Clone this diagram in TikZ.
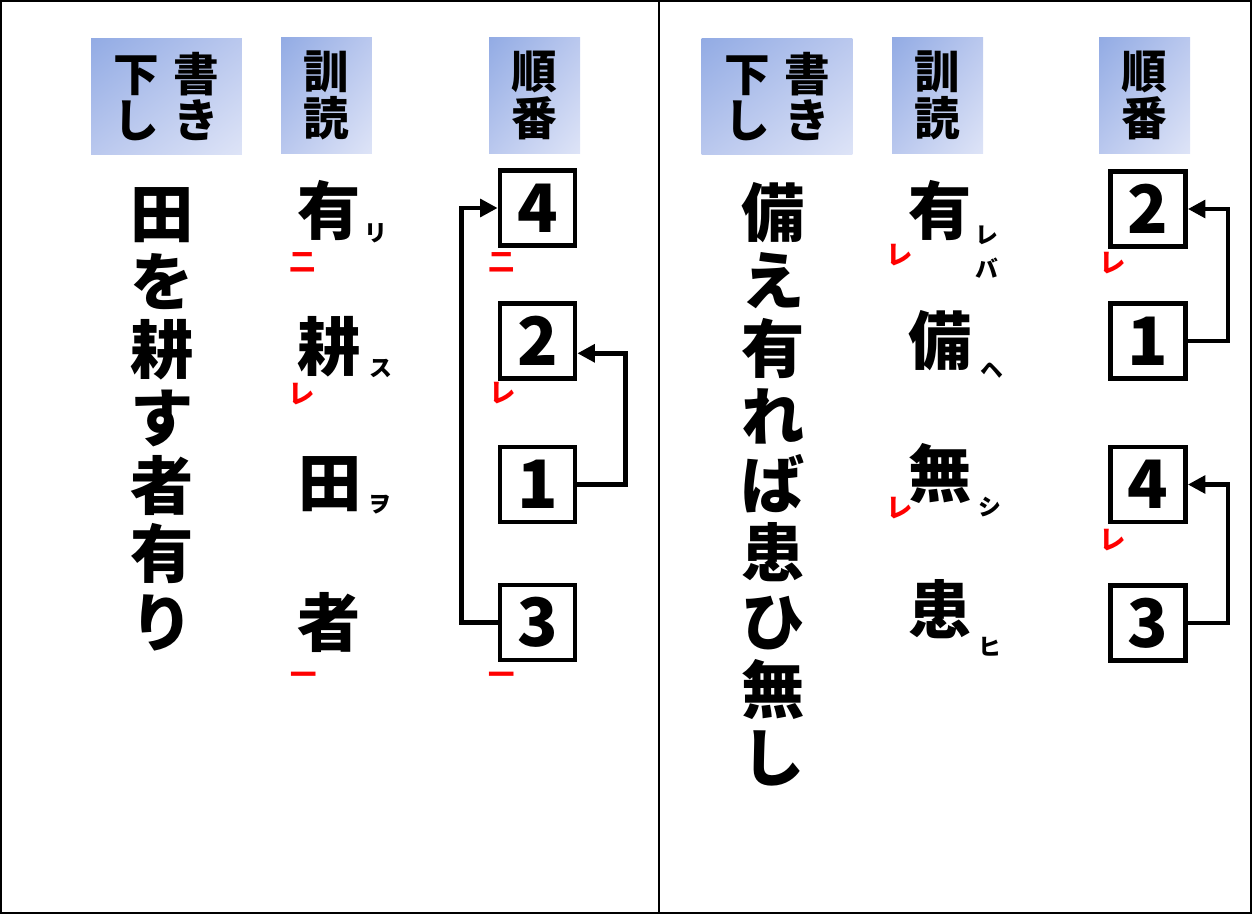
\documentclass[tikz,border=0pt]{standalone}
\usepackage{fontspec}
\newfontfamily\jp{Noto Sans CJK JP}
\usetikzlibrary{arrows.meta,shadings}
\definecolor{hdA}{RGB}{146,171,228}
\definecolor{hdM}{RGB}{186,200,238}
\definecolor{hdB}{RGB}{222,228,247}
\tikzset{
  hd/.style={upper left=hdA, lower right=hdB, upper right=hdM, lower left=hdM,
    inner sep=0pt, align=center, font=\jp\bfseries\fontsize{26}{26.5}\selectfont},
  tate/.style={align=center, inner sep=0pt, font=\jp\bfseries\fontsize{36}{38.8}\selectfont},
  big/.style={inner sep=0pt, font=\jp\bfseries\fontsize{36}{38}\selectfont},
  okuri/.style={inner sep=0pt, font=\jp\bfseries\fontsize{13}{13}\selectfont},
  kaeri/.style={inner sep=0pt, text=red, font=\jp\bfseries\fontsize{15}{15}\selectfont},
  num/.style={draw, line width=2.7pt, minimum size=1.5cm, inner sep=0pt,
    font=\jp\bfseries\fontsize{38}{40}\selectfont},
  arr/.style={line width=2.7pt, -{Triangle[length=10pt,width=10pt]}}
}
\begin{document}
\begin{tikzpicture}[x=0.02cm,y=-0.02cm]
\useasboundingbox (0,0) rectangle (1253,916);
\draw[line width=1.1pt] (1,1) rectangle (1251,913);
\draw[line width=1.1pt] (659,1) -- (659,913);

% left panel
\node[hd, minimum width=3.02cm, minimum height=2.34cm] (hdAl) at (166.5,96.5) {下\hspace{8pt}書\\し\hspace{8pt}き};
\node[hd, minimum width=1.82cm, minimum height=2.34cm] (hdBl) at (326.5,95.5) {訓\\読};
\node[hd, minimum width=1.82cm, minimum height=2.34cm] (hdCl) at (534.5,95.5) {順\\番};

\node[tate] (kakiA) at (162,419) {田\\を\\耕\\す\\者\\有\\り};

\node[big] (kuA1) at (329,210) {有};
\node[big] (kuA2) at (329,347) {耕};
\node[big] (kuA3) at (330,484) {田};
\node[big] (kuA4) at (329,622) {者};
\node[okuri] (okA1) at (376,233) {リ};
\node[okuri] (okA2) at (381,368) {ス};
\node[okuri] (okA3) at (380,505) {ヲ};
\node[kaeri] (reA1) at (303,262) {二};
\node[kaeri] (reA2) at (302,394) {レ};
\node[kaeri] (reA3) at (304,678) {一};

\node[num] (nA4) at (537.5,208) {4};
\node[num] (nA2) at (537.5,341) {2};
\node[num] (nA1) at (537.5,484.5) {1};
\node[num] (nA3) at (537.5,622.5) {3};
\node[kaeri] (rnA4) at (502,262) {二};
\node[kaeri] (rnA2) at (503,393) {レ};
\node[kaeri] (rnA3) at (502,678) {一};

\draw[arr] (nA1.east) -- ++(48,0) |- ([yshift=-7pt]nA2.east);
\draw[arr] (nA3.west) -- ++(-36,0) |- (nA4.west);

% right panel
\node[hd, minimum width=3.02cm, minimum height=2.34cm] (hdAr) at (777,96.5) {下\hspace{8pt}書\\し\hspace{8pt}き};
\node[hd, minimum width=1.82cm, minimum height=2.34cm] (hdBr) at (937.5,95.5) {訓\\読};
\node[hd, minimum width=1.82cm, minimum height=2.34cm] (hdCr) at (1144.5,95.5) {順\\番};

\node[tate] (kakiB) at (773,484) {備\\え\\有\\れ\\ば\\患\\ひ\\無\\し};

\node[big] (kuB1) at (940,210) {有};
\node[big] (kuB2) at (940,341) {備};
\node[big] (kuB3) at (940,473) {無};
\node[big] (kuB4) at (940,609) {患};
\node[okuri] (okB1) at (987,235) {レ};
\node[okuri] (okB1b) at (987,268) {バ};
\node[okuri] (okB2) at (992,370) {ヘ};
\node[okuri] (okB3) at (990,507) {シ};
\node[okuri] (okB4) at (990,647) {ヒ};
\node[kaeri] (reB1) at (900,255) {レ};
\node[kaeri] (reB3) at (900,508) {レ};

\node[num] (nB2) at (1148,209) {2};
\node[num] (nB1) at (1148,341) {1};
\node[num] (nB4) at (1148,484.5) {4};
\node[num] (nB3) at (1148,623) {3};
\node[kaeri] (rnB2) at (1113,263) {レ};
\node[kaeri] (rnB4) at (1113,540) {レ};

\draw[arr] (nB1.east) -- ++(40,0) |- (nB2.east);
\draw[arr] (nB3.east) -- ++(40,0) |- (nB4.east);
\end{tikzpicture}
\end{document}
